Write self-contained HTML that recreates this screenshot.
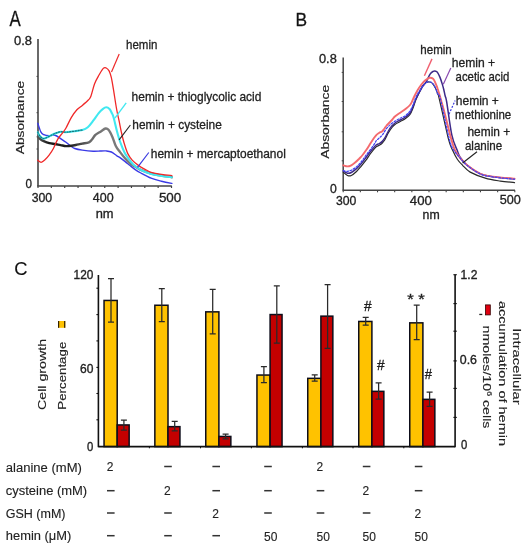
<!DOCTYPE html>
<html><head><meta charset="utf-8"><style>
html,body{margin:0;padding:0;background:#fff;width:530px;height:550px;overflow:hidden}
svg{display:block;will-change:transform}
text{font-family:"Liberation Sans", sans-serif;stroke:#222;stroke-width:0.3px} .lt text{stroke-width:0.12px} .lt text.bd{stroke-width:0.35px}
</style></head><body>
<svg width="530" height="550" viewBox="0 0 530 550">
<rect width="530" height="550" fill="#fff"/>
<text x="9.6" y="26" font-size="21.5" fill="#111" text-anchor="start" textLength="11.2" lengthAdjust="spacingAndGlyphs" >A</text>
<line x1="38" y1="39" x2="38" y2="186" stroke="#444" stroke-width="1.6" />
<line x1="37.2" y1="186" x2="171.8" y2="186" stroke="#444" stroke-width="1.6" />
<line x1="38.0" y1="186" x2="38.0" y2="188" stroke="#444" stroke-width="1.2" />
<line x1="51.35" y1="186" x2="51.35" y2="188" stroke="#444" stroke-width="1.2" />
<line x1="64.7" y1="186" x2="64.7" y2="188" stroke="#444" stroke-width="1.2" />
<line x1="78.05" y1="186" x2="78.05" y2="188" stroke="#444" stroke-width="1.2" />
<line x1="91.4" y1="186" x2="91.4" y2="188" stroke="#444" stroke-width="1.2" />
<line x1="104.75" y1="186" x2="104.75" y2="188" stroke="#444" stroke-width="1.2" />
<line x1="118.1" y1="186" x2="118.1" y2="188" stroke="#444" stroke-width="1.2" />
<line x1="131.45" y1="186" x2="131.45" y2="188" stroke="#444" stroke-width="1.2" />
<line x1="144.8" y1="186" x2="144.8" y2="188" stroke="#444" stroke-width="1.2" />
<line x1="158.14999999999998" y1="186" x2="158.14999999999998" y2="188" stroke="#444" stroke-width="1.2" />
<line x1="171.5" y1="186" x2="171.5" y2="188" stroke="#444" stroke-width="1.2" />
<line x1="38" y1="76.4" x2="36.5" y2="76.4" stroke="#444" stroke-width="1" />
<line x1="38" y1="112.7" x2="36.5" y2="112.7" stroke="#444" stroke-width="1" />
<line x1="38" y1="149" x2="36.5" y2="149" stroke="#444" stroke-width="1" />
<text x="14" y="44.9" font-size="12" fill="#222" text-anchor="start" textLength="18" lengthAdjust="spacingAndGlyphs" >0.8</text>
<text x="25.5" y="187.7" font-size="12" fill="#222" text-anchor="start" textLength="6.5" lengthAdjust="spacingAndGlyphs" >0</text>
<text x="31.7" y="202" font-size="12" fill="#222" text-anchor="start" textLength="20.5" lengthAdjust="spacingAndGlyphs" >300</text>
<text x="92.8" y="202" font-size="12" fill="#222" text-anchor="start" textLength="20.8" lengthAdjust="spacingAndGlyphs" >400</text>
<text x="158.9" y="202" font-size="12" fill="#222" text-anchor="start" textLength="22.4" lengthAdjust="spacingAndGlyphs" >500</text>
<text x="95.7" y="218" font-size="12" fill="#222" text-anchor="start" textLength="17.9" lengthAdjust="spacingAndGlyphs" >nm</text>
<text transform="translate(24.1,154.3) rotate(-90)" font-size="11" fill="#222" style="stroke-width:0.15px" textLength="73.5" lengthAdjust="spacingAndGlyphs">Absorbance</text>
<defs><linearGradient id="gg" gradientUnits="userSpaceOnUse" x1="38" y1="0" x2="171" y2="0"><stop offset="0" stop-color="#555"/><stop offset="0.08" stop-color="#1a1a1a"/><stop offset="0.25" stop-color="#222"/><stop offset="0.38" stop-color="#666"/><stop offset="0.5" stop-color="#7a7a7a"/><stop offset="1" stop-color="#787878"/></linearGradient></defs>
<path d="M37.8,123.3 C38.3,124.7 39.8,129.9 40.8,131.8 C41.8,133.7 42.3,133.9 43.7,134.6 C45.1,135.3 47.4,135.7 49.3,135.8 C51.2,135.9 53.1,134.7 55.0,135.2 C56.9,135.7 58.8,137.4 60.6,138.6 C62.4,139.8 64.4,141.0 66.0,142.2 C67.6,143.4 69.0,144.8 70.4,145.8 C71.9,146.9 72.7,147.8 74.7,148.5 C76.7,149.2 79.2,149.7 82.3,150.1 C85.4,150.5 90.2,151.0 93.2,151.2 C96.2,151.3 97.9,151.1 100.0,151.0 C102.1,150.9 104.1,150.7 106.0,150.9 C107.9,151.1 109.6,151.2 111.4,152.0 C113.2,152.8 115.5,154.9 116.9,155.8 C118.3,156.7 118.6,156.6 120.0,157.6 C121.4,158.6 123.5,160.2 125.2,161.6 C126.9,163.0 128.7,164.4 130.4,165.8 C132.1,167.2 133.9,168.7 135.6,169.9 C137.3,171.1 138.2,171.6 140.8,173.0 C143.4,174.4 147.7,176.8 151.1,178.2 C154.5,179.6 158.0,180.4 161.5,181.3 C165.0,182.2 170.2,183.1 171.9,183.4" fill="none" stroke="#3a3ae6" stroke-width="1.4" stroke-linejoin="round" stroke-linecap="round" />
<path d="M37.8,136.8 C38.3,137.2 39.8,138.8 40.8,139.5 C41.8,140.2 42.3,140.5 43.7,141.1 C45.1,141.7 47.4,142.6 49.3,143.1 C51.2,143.6 53.1,143.7 55.0,144.0 C56.9,144.3 58.8,144.8 60.6,145.1 C62.4,145.4 64.2,146.0 66.0,146.1 C67.8,146.2 69.6,146.0 71.4,145.8 C73.2,145.6 75.1,145.1 76.9,144.7 C78.7,144.3 80.3,144.0 82.3,143.6 C84.3,143.2 87.2,143.0 88.9,142.3 C90.6,141.6 91.1,140.4 92.2,139.2 C93.3,138.0 94.0,136.2 95.4,134.9 C96.9,133.6 99.2,132.5 100.9,131.4 C102.6,130.3 104.2,128.8 105.5,128.5 C106.8,128.2 107.3,128.4 108.5,129.8 C109.7,131.2 111.3,134.5 112.5,137.2 C113.7,139.9 114.5,143.5 115.8,146.0 C117.0,148.5 118.4,149.9 120.0,152.0 C121.6,154.1 123.5,156.6 125.2,158.5 C126.9,160.4 128.7,162.3 130.4,163.7 C132.1,165.1 133.9,165.8 135.6,166.8 C137.3,167.8 138.2,168.8 140.8,169.9 C143.4,171.0 147.7,172.6 151.1,173.5 C154.5,174.4 158.0,175.0 161.5,175.6 C165.0,176.2 170.2,176.9 171.9,177.2" fill="none" stroke="url(#gg)" stroke-width="2.4" stroke-linejoin="round" stroke-linecap="round" />
<path d="M37.8,132.3 C38.2,133.0 39.3,135.6 40.3,136.6 C41.3,137.6 42.2,138.6 43.7,138.6 C45.2,138.6 47.4,137.2 49.3,136.3 C51.2,135.5 53.1,134.2 55.0,133.5 C56.9,132.8 58.8,132.0 60.6,131.8 C62.4,131.6 64.2,132.2 66.0,132.2 C67.8,132.2 68.7,132.0 71.4,131.6 C74.1,131.2 79.6,130.7 82.3,130.0 C85.0,129.3 86.0,128.8 87.8,127.2 C89.6,125.7 91.4,123.1 93.2,120.7 C95.0,118.3 97.1,115.1 98.7,113.1 C100.3,111.1 101.7,109.8 103.0,108.8 C104.3,107.8 105.2,107.3 106.3,107.3 C107.4,107.3 108.6,108.1 109.5,109.0 C110.4,109.9 110.8,111.1 111.5,112.5 C112.2,113.9 112.7,114.4 113.6,117.5 C114.5,120.6 115.8,126.9 116.9,131.0 C118.0,135.1 118.9,138.4 120.2,142.0 C121.5,145.6 123.2,149.8 124.5,152.5 C125.8,155.2 126.8,156.3 128.3,158.3 C129.8,160.3 131.4,162.8 133.5,164.7 C135.6,166.6 137.9,168.3 140.8,169.9 C143.7,171.5 147.7,173.1 151.1,174.1 C154.5,175.1 158.0,175.5 161.5,176.0 C165.0,176.5 170.2,177.0 171.9,177.2" fill="none" stroke="#40e8f0" stroke-width="2.1" stroke-linejoin="round" stroke-linecap="round" />
<path d="M37.8,132.3 C38.2,133.0 39.3,135.6 40.3,136.6 C41.3,137.6 42.2,138.6 43.7,138.6 C45.2,138.6 47.4,137.2 49.3,136.3 C51.2,135.5 53.1,134.2 55.0,133.5 C56.9,132.8 58.8,132.0 60.6,131.8 C62.4,131.6 64.2,132.2 66.0,132.2 C67.8,132.2 68.7,132.0 71.4,131.6 C74.1,131.2 80.5,130.3 82.3,130.0" fill="none" stroke="#137a80" stroke-width="1.3" stroke-linejoin="round" stroke-linecap="round" stroke-dasharray="1.2 1.6"/>
<path d="M37.7,160.1 C38.3,160.5 39.9,162.3 41.1,162.3 C42.3,162.3 43.4,161.3 44.7,160.1 C46.0,158.9 47.7,157.0 49.1,155.1 C50.5,153.2 52.0,151.2 53.4,148.5 C54.8,145.8 56.3,141.6 57.8,139.1 C59.3,136.6 60.8,135.2 62.2,133.3 C63.6,131.5 64.5,130.7 66.0,128.0 C67.5,125.3 69.6,120.4 71.4,117.4 C73.2,114.4 75.1,111.8 76.9,109.8 C78.7,107.8 80.4,107.0 82.3,105.4 C84.2,103.8 86.9,101.5 88.3,100.0 C89.7,98.5 89.9,99.0 90.9,96.3 C91.9,93.6 93.2,87.5 94.5,84.0 C95.8,80.5 97.4,77.9 98.9,75.3 C100.4,72.7 102.1,69.6 103.3,68.4 C104.5,67.2 105.2,67.6 106.2,68.0 C107.2,68.4 108.2,69.3 109.1,70.9 C109.9,72.5 110.6,74.4 111.3,77.4 C112.0,80.4 112.5,83.8 113.4,89.1 C114.3,94.4 115.6,103.7 116.6,109.0 C117.5,114.3 118.3,117.1 119.1,120.9 C119.9,124.7 120.5,128.2 121.3,131.8 C122.1,135.4 122.9,139.1 124.0,142.7 C125.1,146.3 126.4,150.7 127.8,153.6 C129.2,156.5 130.4,158.1 132.2,160.1 C134.0,162.1 136.6,164.1 138.7,165.6 C140.8,167.1 142.9,168.2 145.0,169.3 C147.1,170.4 148.3,171.5 151.1,172.3 C153.8,173.1 158.0,173.8 161.5,174.3 C165.0,174.9 170.2,175.4 171.9,175.6" fill="none" stroke="#f02828" stroke-width="1.3" stroke-linejoin="round" stroke-linecap="round" />
<line x1="111.5" y1="72" x2="119.2" y2="54" stroke="#ee2a2a" stroke-width="1.2" />
<line x1="114.9" y1="118.1" x2="126.2" y2="102.9" stroke="#44e8f0" stroke-width="1.4" />
<line x1="119.1" y1="139.8" x2="130.4" y2="125" stroke="#222" stroke-width="1.1" />
<line x1="137.5" y1="167.4" x2="148.8" y2="152.5" stroke="#3a3ae0" stroke-width="1.2" />
<text x="126.1" y="49" font-size="13" fill="#222" text-anchor="start" textLength="31.3" lengthAdjust="spacingAndGlyphs" >hemin</text>
<text x="131.6" y="100.6" font-size="13" fill="#222" text-anchor="start" textLength="129.8" lengthAdjust="spacingAndGlyphs" >hemin + thioglycolic acid</text>
<text x="132.3" y="128.9" font-size="13" fill="#222" text-anchor="start" textLength="89.5" lengthAdjust="spacingAndGlyphs" >hemin + cysteine</text>
<text x="150.8" y="158.2" font-size="13" fill="#222" text-anchor="start" textLength="135" lengthAdjust="spacingAndGlyphs" >hemin + mercaptoethanol</text>
<text x="295.6" y="26" font-size="18.5" fill="#111" text-anchor="start" textLength="11.6" lengthAdjust="spacingAndGlyphs" >B</text>
<line x1="343.2" y1="57.5" x2="343.2" y2="190.3" stroke="#444" stroke-width="1.5" />
<line x1="342.5" y1="190.3" x2="515" y2="190.3" stroke="#444" stroke-width="1.5" />
<line x1="343.2" y1="190.3" x2="343.2" y2="192.3" stroke="#444" stroke-width="1.1" />
<line x1="360.36" y1="190.3" x2="360.36" y2="192.3" stroke="#444" stroke-width="1.1" />
<line x1="377.52" y1="190.3" x2="377.52" y2="192.3" stroke="#444" stroke-width="1.1" />
<line x1="394.68" y1="190.3" x2="394.68" y2="192.3" stroke="#444" stroke-width="1.1" />
<line x1="411.84" y1="190.3" x2="411.84" y2="192.3" stroke="#444" stroke-width="1.1" />
<line x1="429.0" y1="190.3" x2="429.0" y2="192.3" stroke="#444" stroke-width="1.1" />
<line x1="446.15999999999997" y1="190.3" x2="446.15999999999997" y2="192.3" stroke="#444" stroke-width="1.1" />
<line x1="463.32" y1="190.3" x2="463.32" y2="192.3" stroke="#444" stroke-width="1.1" />
<line x1="480.48" y1="190.3" x2="480.48" y2="192.3" stroke="#444" stroke-width="1.1" />
<line x1="497.64" y1="190.3" x2="497.64" y2="192.3" stroke="#444" stroke-width="1.1" />
<line x1="514.8" y1="190.3" x2="514.8" y2="192.3" stroke="#444" stroke-width="1.1" />
<line x1="343.2" y1="72.4" x2="341.7" y2="72.4" stroke="#444" stroke-width="1" />
<line x1="343.2" y1="101.5" x2="341.7" y2="101.5" stroke="#444" stroke-width="1" />
<line x1="343.2" y1="131.8" x2="341.7" y2="131.8" stroke="#444" stroke-width="1" />
<line x1="343.2" y1="160.8" x2="341.7" y2="160.8" stroke="#444" stroke-width="1" />
<text x="319" y="62.5" font-size="12" fill="#222" text-anchor="start" textLength="17.8" lengthAdjust="spacingAndGlyphs" >0.8</text>
<text x="330.1" y="192.5" font-size="12" fill="#222" text-anchor="start" textLength="6.8" lengthAdjust="spacingAndGlyphs" >0</text>
<text x="335.9" y="204.5" font-size="12" fill="#222" text-anchor="start" textLength="20.4" lengthAdjust="spacingAndGlyphs" >300</text>
<text x="409.8" y="204.5" font-size="12" fill="#222" text-anchor="start" textLength="22" lengthAdjust="spacingAndGlyphs" >400</text>
<text x="499.8" y="204.3" font-size="12" fill="#222" text-anchor="start" textLength="21.1" lengthAdjust="spacingAndGlyphs" >500</text>
<text x="422.6" y="218.6" font-size="12" fill="#222" text-anchor="start" textLength="17.1" lengthAdjust="spacingAndGlyphs" >nm</text>
<text transform="translate(329.3,158.8) rotate(-90)" font-size="11" fill="#222" style="stroke-width:0.15px" textLength="74" lengthAdjust="spacingAndGlyphs">Absorbance</text>
<path d="M343.3,172.2 C344.0,172.8 346.2,174.9 347.5,175.5 C348.8,176.1 349.8,176.2 351.3,175.5 C352.8,174.8 354.9,173.0 356.5,171.5 C358.1,170.0 359.5,168.2 361.1,166.3 C362.7,164.4 364.5,162.2 366.0,160.2 C367.5,158.1 368.6,156.2 370.2,154.0 C371.8,151.8 374.1,148.8 375.6,147.3 C377.1,145.9 378.2,146.0 379.3,145.3 C380.4,144.6 381.1,144.2 382.0,143.3 C382.9,142.4 383.6,141.8 384.7,140.0 C385.8,138.2 387.2,134.9 388.4,132.8 C389.6,130.7 390.9,128.9 392.0,127.5 C393.1,126.1 393.6,125.5 395.0,124.5 C396.4,123.5 398.4,122.6 400.2,121.6 C401.9,120.6 403.9,119.8 405.5,118.6 C407.1,117.4 408.8,116.3 410.0,114.5 C411.2,112.7 412.0,110.5 413.0,108.0 C414.0,105.5 414.8,102.2 415.9,99.5 C417.0,96.8 418.4,94.2 419.5,92.0 C420.6,89.8 421.4,87.6 422.5,86.0 C423.6,84.4 425.2,83.3 426.3,82.6 C427.4,81.9 428.3,81.9 429.3,82.0 C430.3,82.1 431.4,82.3 432.4,83.3 C433.4,84.3 434.5,86.3 435.4,88.0 C436.3,89.7 437.0,92.0 437.6,93.7 C438.2,95.5 437.4,91.1 439.2,98.5 C441.0,105.9 446.0,129.4 448.2,138.0 C450.4,146.6 450.9,146.5 452.5,150.1 C454.1,153.7 455.8,157.0 457.5,159.5 C459.2,162.0 460.5,163.2 462.6,165.3 C464.7,167.4 466.4,170.0 470.2,172.1 C474.0,174.2 480.3,176.6 485.3,178.1 C490.3,179.6 495.5,180.3 500.4,181.1 C505.3,181.8 512.1,182.3 514.5,182.6" fill="none" stroke="#2a2a2a" stroke-width="1.2" stroke-linejoin="round" stroke-linecap="round" />
<path d="M343.3,171.0 C344.0,171.4 346.2,172.9 347.5,173.2 C348.8,173.4 349.8,173.3 351.3,172.5 C352.8,171.7 354.9,170.0 356.5,168.6 C358.1,167.2 359.5,165.7 361.1,163.8 C362.7,162.0 364.5,159.5 366.0,157.5 C367.5,155.5 368.6,153.8 370.2,151.8 C371.8,149.8 374.1,146.9 375.6,145.5 C377.1,144.1 378.2,144.2 379.3,143.6 C380.4,142.9 381.1,142.5 382.0,141.6 C382.9,140.7 383.6,140.0 384.7,138.2 C385.8,136.4 387.2,133.1 388.4,131.0 C389.6,128.9 390.8,127.2 392.0,125.8 C393.2,124.4 394.3,123.5 395.7,122.5 C397.1,121.5 398.6,120.9 400.2,120.0 C401.8,119.1 403.9,118.2 405.5,117.0 C407.1,115.8 408.7,114.8 410.0,113.0 C411.3,111.2 412.2,108.3 413.2,106.0 C414.2,103.7 414.9,101.3 416.0,99.0 C417.1,96.7 418.4,94.1 419.5,92.0 C420.6,89.9 421.4,88.2 422.5,86.5 C423.6,84.8 425.0,83.7 426.3,81.6 C427.6,79.5 429.0,75.8 430.1,74.1 C431.2,72.4 432.2,71.9 433.1,71.4 C434.1,70.9 435.1,71.0 435.8,71.2 C436.6,71.4 436.9,71.6 437.6,72.6 C438.3,73.6 439.1,75.2 439.9,77.1 C440.7,79.0 441.6,81.9 442.2,83.9 C442.8,85.9 443.2,87.2 443.7,89.2 C444.2,91.2 444.7,93.9 445.2,96.0 C445.7,98.1 445.6,95.5 446.7,102.0 C447.8,108.5 450.1,127.0 451.8,135.0 C453.5,143.0 455.7,146.4 457.1,150.1 C458.5,153.8 458.5,154.7 460.1,157.2 C461.7,159.7 463.6,162.3 466.9,165.0 C470.2,167.7 475.7,171.6 480.0,173.6 C484.3,175.6 487.1,175.9 492.8,176.8 C498.6,177.7 510.9,178.6 514.5,179.0" fill="none" stroke="#3e2a88" stroke-width="1.5" stroke-linejoin="round" stroke-linecap="round" />
<path d="M343.3,165.3 C344.0,165.5 346.2,166.4 347.5,166.4 C348.8,166.4 350.0,165.9 351.3,165.3 C352.6,164.7 353.8,163.7 355.1,162.6 C356.4,161.5 357.6,160.3 358.9,159.0 C360.1,157.7 361.4,156.5 362.6,155.0 C363.9,153.5 365.1,151.7 366.4,149.8 C367.7,147.9 369.0,145.7 370.2,143.8 C371.4,141.9 372.8,139.8 373.8,138.3 C374.9,136.8 375.6,135.7 376.5,134.8 C377.4,133.9 378.4,133.4 379.3,132.8 C380.2,132.2 381.1,132.2 382.0,131.5 C382.9,130.8 383.7,129.5 384.5,128.5 C385.3,127.5 385.4,126.9 386.6,125.5 C387.9,124.1 390.6,121.5 392.0,120.0 C393.4,118.5 393.5,117.7 394.9,116.5 C396.3,115.3 398.4,114.0 400.2,112.7 C402.0,111.5 403.9,110.3 405.5,109.0 C407.1,107.7 408.8,106.4 410.0,105.0 C411.2,103.6 411.8,102.0 412.5,100.5 C413.2,99.0 413.6,97.8 414.5,96.0 C415.4,94.2 416.6,91.9 417.7,90.0 C418.8,88.1 420.2,86.1 421.4,84.5 C422.6,82.9 423.6,81.6 425.0,80.5 C426.4,79.4 428.1,78.1 429.5,77.8 C430.9,77.5 432.1,78.0 433.1,78.8 C434.1,79.6 434.6,81.2 435.4,82.8 C436.1,84.4 436.9,86.3 437.6,88.5 C438.4,90.7 439.2,93.8 439.9,96.0 C440.6,98.2 440.8,98.9 441.6,102.0 C442.5,105.1 443.5,108.8 445.0,114.5 C446.5,120.2 448.8,130.1 450.4,136.0 C452.0,141.9 453.2,146.4 454.8,150.0 C456.4,153.6 458.1,155.3 460.1,157.8 C462.1,160.3 463.6,162.4 466.9,165.0 C470.2,167.6 475.7,171.6 480.0,173.5 C484.3,175.4 487.1,175.8 492.8,176.6 C498.6,177.4 510.9,178.3 514.5,178.6" fill="none" stroke="#f46a6e" stroke-width="1.9" stroke-linejoin="round" stroke-linecap="round" />
<path d="M343.3,170.6 C344.0,170.7 346.2,171.4 347.5,171.3 C348.8,171.2 350.0,170.8 351.3,170.2 C352.6,169.6 353.8,168.8 355.1,167.9 C356.4,167.0 357.6,165.8 358.9,164.5 C360.1,163.2 361.4,161.6 362.6,160.0 C363.9,158.4 365.1,156.4 366.4,154.7 C367.7,153.0 368.9,151.5 370.2,149.8 C371.5,148.1 372.9,146.1 374.0,144.5 C375.1,142.9 375.5,141.7 376.5,140.5 C377.5,139.3 378.8,138.5 379.8,137.5 C380.9,136.5 381.7,135.9 382.8,134.4 C383.9,132.9 385.2,130.2 386.6,128.4 C388.0,126.7 389.6,125.2 391.1,123.9 C392.6,122.6 394.2,121.8 395.7,120.8 C397.2,119.8 398.6,119.1 400.2,118.2 C401.8,117.3 403.9,116.8 405.5,115.6 C407.1,114.4 408.7,112.8 410.0,111.0 C411.3,109.2 412.2,106.8 413.2,104.5 C414.2,102.2 414.8,99.6 415.9,97.3 C416.9,95.0 418.0,93.2 419.5,90.9 C421.0,88.6 423.4,85.1 425.0,83.6 C426.6,82.1 428.1,81.9 429.3,81.8 C430.5,81.7 431.4,82.1 432.4,83.1 C433.4,84.1 434.5,85.9 435.4,87.7 C436.3,89.5 436.8,91.9 437.6,93.7 C438.4,95.5 438.4,91.1 440.3,98.5 C442.2,105.9 446.9,129.6 449.0,138.0 C451.1,146.4 451.1,145.7 453.0,149.0 C454.9,152.3 457.8,155.3 460.1,158.0 C462.4,160.7 463.6,162.6 466.9,165.2 C470.2,167.8 475.7,171.9 480.0,173.8 C484.3,175.8 487.1,176.0 492.8,176.9 C498.6,177.8 510.9,178.8 514.5,179.2" fill="none" stroke="#4040f4" stroke-width="1.25" stroke-linejoin="round" stroke-linecap="round" stroke-dasharray="1.8 1.7"/>
<line x1="424.4" y1="75.8" x2="432" y2="58.9" stroke="#f06070" stroke-width="1.4" />
<line x1="443.3" y1="84.3" x2="450.8" y2="67.9" stroke="#8a4ab0" stroke-width="1.2" />
<line x1="449" y1="114.2" x2="455.1" y2="100.6" stroke="#3a3ae0" stroke-width="1.2" stroke-dasharray="2 1.5"/>
<line x1="462.6" y1="163" x2="477" y2="151.7" stroke="#222" stroke-width="1.1" />
<text x="420.3" y="54.2" font-size="13" fill="#222" text-anchor="start" textLength="31.5" lengthAdjust="spacingAndGlyphs" >hemin</text>
<text x="451.8" y="67.4" font-size="13" fill="#222" text-anchor="start" textLength="43.4" lengthAdjust="spacingAndGlyphs" >hemin +</text>
<text x="455.6" y="81.1" font-size="13" fill="#222" text-anchor="start" textLength="53.7" lengthAdjust="spacingAndGlyphs" >acetic acid</text>
<text x="455.8" y="105.4" font-size="13" fill="#222" text-anchor="start" textLength="43.1" lengthAdjust="spacingAndGlyphs" >hemin +</text>
<text x="455.1" y="118.7" font-size="13" fill="#222" text-anchor="start" textLength="56.1" lengthAdjust="spacingAndGlyphs" >methionine</text>
<text x="467.5" y="136" font-size="13" fill="#222" text-anchor="start" textLength="42.7" lengthAdjust="spacingAndGlyphs" >hemin +</text>
<text x="464.9" y="149.6" font-size="13" fill="#222" text-anchor="start" textLength="37.3" lengthAdjust="spacingAndGlyphs" >alanine</text>
<g class="lt">
<text x="14.2" y="275.3" font-size="19" fill="#111" text-anchor="start" textLength="13.2" lengthAdjust="spacingAndGlyphs" >C</text>
<rect x="104.05" y="300.45" width="13.15" height="146.15" fill="#ffc200" stroke="#0d0d1a" stroke-width="1.5"/>
<rect x="117.20" y="424.95" width="11.95" height="21.65" fill="#c40000" stroke="#0d0d1a" stroke-width="1.5"/>
<rect x="154.85" y="305.25" width="13.15" height="141.35" fill="#ffc200" stroke="#0d0d1a" stroke-width="1.5"/>
<rect x="168.00" y="426.65" width="11.95" height="19.95" fill="#c40000" stroke="#0d0d1a" stroke-width="1.5"/>
<rect x="205.75" y="311.85" width="13.15" height="134.75" fill="#ffc200" stroke="#0d0d1a" stroke-width="1.5"/>
<rect x="218.90" y="436.45" width="11.95" height="10.15" fill="#c40000" stroke="#0d0d1a" stroke-width="1.5"/>
<rect x="256.95" y="375.05" width="13.15" height="71.55" fill="#ffc200" stroke="#0d0d1a" stroke-width="1.5"/>
<rect x="270.10" y="314.55" width="11.95" height="132.05" fill="#c40000" stroke="#0d0d1a" stroke-width="1.5"/>
<rect x="307.75" y="378.35" width="13.15" height="68.25" fill="#ffc200" stroke="#0d0d1a" stroke-width="1.5"/>
<rect x="320.90" y="316.15" width="11.95" height="130.45" fill="#c40000" stroke="#0d0d1a" stroke-width="1.5"/>
<rect x="358.75" y="321.45" width="13.15" height="125.15" fill="#ffc200" stroke="#0d0d1a" stroke-width="1.5"/>
<rect x="371.90" y="391.35" width="11.95" height="55.25" fill="#c40000" stroke="#0d0d1a" stroke-width="1.5"/>
<rect x="409.75" y="322.85" width="13.15" height="123.75" fill="#ffc200" stroke="#0d0d1a" stroke-width="1.5"/>
<rect x="422.90" y="399.35" width="11.95" height="47.25" fill="#c40000" stroke="#0d0d1a" stroke-width="1.5"/>
<path d="M111.00,278.70V322.10M108.00,278.70h6M108.00,322.10h6" stroke="#2a2a2a" stroke-width="1.25" fill="none"/>
<path d="M123.90,420.20V430.00M120.90,420.20h6M120.90,430.00h6" stroke="#2a2a2a" stroke-width="1.25" fill="none"/>
<path d="M161.80,288.70V321.50M158.80,288.70h6M158.80,321.50h6" stroke="#2a2a2a" stroke-width="1.25" fill="none"/>
<path d="M174.70,421.40V430.90M171.70,421.40h6M171.70,430.90h6" stroke="#2a2a2a" stroke-width="1.25" fill="none"/>
<path d="M212.70,289.40V333.80M209.70,289.40h6M209.70,333.80h6" stroke="#2a2a2a" stroke-width="1.25" fill="none"/>
<path d="M225.60,434.10V438.90M222.60,434.10h6M222.60,438.90h6" stroke="#2a2a2a" stroke-width="1.25" fill="none"/>
<path d="M263.90,366.70V382.50M260.90,366.70h6M260.90,382.50h6" stroke="#2a2a2a" stroke-width="1.25" fill="none"/>
<path d="M276.80,285.80V343.20M273.80,285.80h6M273.80,343.20h6" stroke="#2a2a2a" stroke-width="1.25" fill="none"/>
<path d="M314.70,374.80V381.00M311.70,374.80h6M311.70,381.00h6" stroke="#2a2a2a" stroke-width="1.25" fill="none"/>
<path d="M327.60,284.70V348.30M324.60,284.70h6M324.60,348.30h6" stroke="#2a2a2a" stroke-width="1.25" fill="none"/>
<path d="M365.70,317.30V325.00M362.70,317.30h6M362.70,325.00h6" stroke="#2a2a2a" stroke-width="1.25" fill="none"/>
<path d="M378.60,382.80V399.20M375.60,382.80h6M375.60,399.20h6" stroke="#2a2a2a" stroke-width="1.25" fill="none"/>
<path d="M416.70,305.10V339.50M413.70,305.10h6M413.70,339.50h6" stroke="#2a2a2a" stroke-width="1.25" fill="none"/>
<path d="M429.60,392.00V406.30M426.60,392.00h6M426.60,406.30h6" stroke="#2a2a2a" stroke-width="1.25" fill="none"/>
<line x1="98.4" y1="275" x2="98.4" y2="447.2" stroke="#111" stroke-width="1.6" />
<line x1="98.4" y1="446.6" x2="455.1" y2="446.6" stroke="#111" stroke-width="1.6" />
<line x1="455.1" y1="274.7" x2="455.1" y2="447.2" stroke="#111" stroke-width="1.6" />
<line x1="98.4" y1="288.2" x2="96.4" y2="288.2" stroke="#111" stroke-width="1.1" />
<line x1="98.4" y1="314.6" x2="96.4" y2="314.6" stroke="#111" stroke-width="1.1" />
<line x1="98.4" y1="340.9" x2="96.4" y2="340.9" stroke="#111" stroke-width="1.1" />
<line x1="98.4" y1="367.4" x2="96.4" y2="367.4" stroke="#111" stroke-width="1.1" />
<line x1="98.4" y1="393.5" x2="96.4" y2="393.5" stroke="#111" stroke-width="1.1" />
<line x1="98.4" y1="419.8" x2="96.4" y2="419.8" stroke="#111" stroke-width="1.1" />
<line x1="453.4" y1="274.7" x2="456.8" y2="274.7" stroke="#111" stroke-width="1.1" />
<line x1="453.4" y1="303.6" x2="456.8" y2="303.6" stroke="#111" stroke-width="1.1" />
<line x1="453.4" y1="331.2" x2="456.8" y2="331.2" stroke="#111" stroke-width="1.1" />
<line x1="453.4" y1="360.9" x2="456.8" y2="360.9" stroke="#111" stroke-width="1.1" />
<line x1="453.4" y1="388.4" x2="456.8" y2="388.4" stroke="#111" stroke-width="1.1" />
<line x1="453.4" y1="417.4" x2="456.8" y2="417.4" stroke="#111" stroke-width="1.1" />
<line x1="149.4" y1="446.2" x2="149.4" y2="448.3" stroke="#111" stroke-width="1" />
<line x1="200.5" y1="446.2" x2="200.5" y2="448.3" stroke="#111" stroke-width="1" />
<line x1="251.4" y1="446.2" x2="251.4" y2="448.3" stroke="#111" stroke-width="1" />
<line x1="302.4" y1="446.2" x2="302.4" y2="448.3" stroke="#111" stroke-width="1" />
<line x1="353.0" y1="446.2" x2="353.0" y2="448.3" stroke="#111" stroke-width="1" />
<line x1="403.8" y1="446.2" x2="403.8" y2="448.3" stroke="#111" stroke-width="1" />
<text x="73.6" y="278.9" font-size="12" fill="#222" text-anchor="start" textLength="19.8" lengthAdjust="spacingAndGlyphs" class="bd">120</text>
<text x="80" y="372.7" font-size="12" fill="#222" text-anchor="start" textLength="13.4" lengthAdjust="spacingAndGlyphs" class="bd">60</text>
<text x="87.1" y="451.2" font-size="12" fill="#222" text-anchor="start" textLength="6.3" lengthAdjust="spacingAndGlyphs" class="bd">0</text>
<text x="460.6" y="279" font-size="12" fill="#222" text-anchor="start" textLength="16.8" lengthAdjust="spacingAndGlyphs" class="bd">1.2</text>
<text x="459.8" y="364.3" font-size="12" fill="#222" text-anchor="start" textLength="17.2" lengthAdjust="spacingAndGlyphs" class="bd">0.6</text>
<text x="461.1" y="449.3" font-size="12" fill="#222" text-anchor="start" textLength="6.3" lengthAdjust="spacingAndGlyphs" class="bd">0</text>
<rect x="58" y="321" width="7.3" height="6.8" fill="#ffc200"/>
<rect x="58" y="321" width="1.2" height="6.8" fill="#332200"/>
<rect x="64.1" y="321" width="1.2" height="6.8" fill="#332200"/>
<text transform="translate(46,410) rotate(-90)" font-size="11" fill="#222" textLength="71.1" lengthAdjust="spacingAndGlyphs">Cell growth</text>
<text transform="translate(66,409.7) rotate(-90)" font-size="11" fill="#222" textLength="68" lengthAdjust="spacingAndGlyphs">Percentage</text>
<rect x="485.5" y="304.9" width="4.8" height="10" fill="#e00010" stroke="#300" stroke-width="0.8"/>
<rect x="479.3" y="313.8" width="3" height="1.3" fill="#222"/>
<text transform="translate(512.6,328.2) rotate(90)" font-size="11.5" fill="#222" textLength="76.5" lengthAdjust="spacingAndGlyphs">Intracellular</text>
<text transform="translate(498.8,301) rotate(90)" font-size="11.5" fill="#222" textLength="145" lengthAdjust="spacingAndGlyphs">accumulation of hemin</text>
<text transform="translate(483.4,325.5) rotate(90)" font-size="11.5" fill="#222" textLength="103" lengthAdjust="spacingAndGlyphs">nmoles/10<tspan font-size="7" dy="-4">6</tspan><tspan dy="4"> cells</tspan></text>
<text x="363.9" y="311.2" font-size="15" fill="#222" text-anchor="start" textLength="7.6" lengthAdjust="spacingAndGlyphs" class="bd">#</text>
<text x="377" y="370.2" font-size="15" fill="#222" text-anchor="start" textLength="7.6" lengthAdjust="spacingAndGlyphs" class="bd">#</text>
<text x="424.7" y="378.7" font-size="15" fill="#222" text-anchor="start" textLength="7.2" lengthAdjust="spacingAndGlyphs" class="bd">#</text>
<text x="407.2" y="304.3" font-size="14.5" fill="#222" text-anchor="start" textLength="17.6" lengthAdjust="spacingAndGlyphs" class="bd">* *</text>
<text x="5.8" y="472.2" font-size="12.5" fill="#222" text-anchor="start" textLength="76.1" lengthAdjust="spacingAndGlyphs" >alanine (mM)</text>
<text x="5.8" y="494.6" font-size="12.5" fill="#222" text-anchor="start" textLength="81.4" lengthAdjust="spacingAndGlyphs" >cysteine (mM)</text>
<text x="5.8" y="518.4" font-size="12.5" fill="#222" text-anchor="start" textLength="59.7" lengthAdjust="spacingAndGlyphs" >GSH (mM)</text>
<text x="5.8" y="540.2" font-size="12.5" fill="#222" text-anchor="start" textLength="65.5" lengthAdjust="spacingAndGlyphs" >hemin (μM)</text>
<text x="106.8" y="471.1" font-size="12" fill="#222" text-anchor="start" >2</text>
<rect x="164.2" y="465.75" width="7.6" height="1.5" fill="#333"/>
<rect x="212.4" y="465.75" width="7.6" height="1.5" fill="#333"/>
<rect x="264.2" y="465.75" width="7.6" height="1.5" fill="#333"/>
<text x="316.5" y="471.1" font-size="12" fill="#222" text-anchor="start" >2</text>
<rect x="362.8" y="465.75" width="7.6" height="1.5" fill="#333"/>
<rect x="414.8" y="465.75" width="7.6" height="1.5" fill="#333"/>
<rect x="107.0" y="489.95" width="7.6" height="1.5" fill="#333"/>
<text x="164.0" y="495.2" font-size="12" fill="#222" text-anchor="start" >2</text>
<rect x="212.4" y="489.95" width="7.6" height="1.5" fill="#333"/>
<rect x="264.2" y="489.95" width="7.6" height="1.5" fill="#333"/>
<rect x="316.7" y="489.95" width="7.6" height="1.5" fill="#333"/>
<text x="362.6" y="495.2" font-size="12" fill="#222" text-anchor="start" >2</text>
<rect x="414.8" y="489.95" width="7.6" height="1.5" fill="#333"/>
<rect x="107.0" y="512.25" width="7.6" height="1.5" fill="#333"/>
<rect x="164.2" y="512.25" width="7.6" height="1.5" fill="#333"/>
<text x="212.2" y="517.7" font-size="12" fill="#222" text-anchor="start" >2</text>
<rect x="264.2" y="512.25" width="7.6" height="1.5" fill="#333"/>
<rect x="316.7" y="512.25" width="7.6" height="1.5" fill="#333"/>
<rect x="362.8" y="512.25" width="7.6" height="1.5" fill="#333"/>
<text x="414.6" y="517.7" font-size="12" fill="#222" text-anchor="start" >2</text>
<rect x="107.0" y="534.95" width="7.6" height="1.5" fill="#333"/>
<rect x="164.2" y="534.95" width="7.6" height="1.5" fill="#333"/>
<rect x="212.4" y="534.95" width="7.6" height="1.5" fill="#333"/>
<text x="264.0" y="541.0" font-size="12" fill="#222" text-anchor="start" >50</text>
<text x="316.5" y="541.0" font-size="12" fill="#222" text-anchor="start" >50</text>
<text x="362.6" y="541.0" font-size="12" fill="#222" text-anchor="start" >50</text>
<text x="414.6" y="541.0" font-size="12" fill="#222" text-anchor="start" >50</text>
</g>
</svg></body></html>
